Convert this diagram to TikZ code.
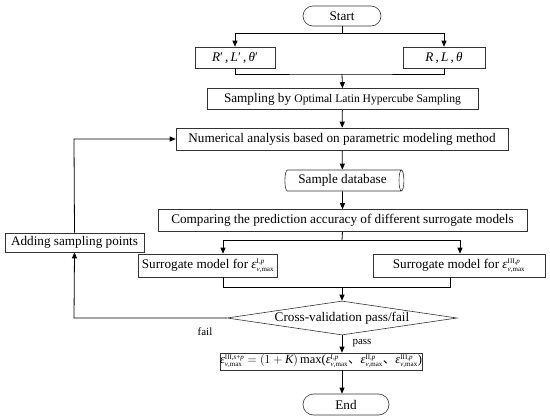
\documentclass[tikz,border=0pt]{standalone}
\usepackage{fontspec}
\usepackage{amsmath}
\setmainfont{Liberation Serif}
\newfontfamily\cjk{Noto Sans CJK SC}
\usetikzlibrary{arrows.meta,shapes.geometric,shapes.misc}
\newcommand\epsv[2]{$\text{\itshape ε}^{\mbox{\fontsize{7}{7}\selectfont #1,#2}}_{\mbox{\fontsize{7}{7}\selectfont\itshape v\upshape ,max}}$}
\begin{document}
\begin{tikzpicture}[x=1pt,y=-1pt,
  font=\fontsize{13.2}{15}\selectfont,
  box/.style={draw=black!80, line width=0.6pt, inner sep=1pt, fill=white},
  term/.style={draw=black!80, line width=0.6pt, rounded rectangle, inner sep=1pt},
  arr/.style={line width=0.8pt, -{Triangle[length=6pt,width=5pt]}},
  ln/.style={line width=0.8pt}]
\useasboundingbox (0,0) rectangle (550,418);
\node[term, minimum width=80, minimum height=20] (start) at (342,16) {Start};
\node[box, minimum width=80, minimum height=21] (rp) at (235,57.5) {\textit{R}′\,,\,\textit{L}′\,,\,\textit{θ}′};
\node[box, minimum width=82, minimum height=21] (r) at (444,57.5) {\textit{R}\,,\,\textit{L}\,,\,\textit{θ}};
\node[box, minimum width=271, minimum height=21] (samp) at (342.5,99) {Sampling by {\fontsize{11.6}{13}\selectfont Optimal Latin Hypercube Sampling}};
\node[box, minimum width=332, minimum height=22] (num) at (342,139) {Numerical analysis based on parametric modeling method};
\node[draw=black!80, line width=0.6pt, cylinder, shape aspect=0.35, minimum height=119, minimum width=21, inner sep=1pt] (db) at (342.5,180.5) {Sample database};
\node[box, minimum width=369, minimum height=22] (cmp) at (342.5,220.5) {Comparing the prediction accuracy of different surrogate models};
\node[box, minimum width=139, minimum height=19] (add) at (74.5,242.5) {Adding sampling points};
\node[box, minimum width=139, minimum height=23] (s1) at (208,265.5) {Surrogate model for \epsv{I}{\itshape p}};
\node[box, minimum width=172, minimum height=23] (s3) at (459,265.5) {Surrogate model for \epsv{III}{\itshape p}};
\node[draw=black!80, line width=0.6pt, diamond, aspect=6.8, inner sep=0pt, minimum width=230, minimum height=34] (cv) at (342,318) {Cross-validation pass/fail};
\node[box, minimum width=188, minimum height=17, inner sep=0pt, font=\fontsize{12.5}{13}\selectfont] (fm) at (321,361.5) {\epsv{III}{\itshape s\upshape +\itshape p}${}=(1+\mathit{K})$\,max(\epsv{I}{\itshape p}{\cjk 、}\epsv{II}{\itshape p}{\cjk 、}\epsv{III}{\itshape p})};
\node[term, minimum width=88, minimum height=21] (end) at (346,404.5) {End};
\node[font=\fontsize{11}{12}\selectfont] (fail) at (205,332) {fail};
\node[font=\fontsize{11}{12}\selectfont] (pass) at (362,343) {pass};
% connectors
\coordinate (sp1) at (342,33);
\coordinate (mg1) at (342,74);
\coordinate (sp2) at (342,240);
\coordinate (c1) at (223,240);
\coordinate (c3) at (460,240);
\coordinate (m1) at (223,287);
\coordinate (m3) at (450,287);
\coordinate (mg2) at (342,287);
\coordinate (lf) at (74,318);
\coordinate (lt) at (74,139);
\draw[ln] (start) -- (sp1);
\draw[arr] (sp1) -| (rp.north);
\draw[arr] (sp1) -| (r.north);
\draw[ln] (rp.south) |- (mg1) -| (r.south);
\draw[arr] (mg1) -- (samp.north);
\draw[arr] (samp) -- (num);
\draw[arr] (num) -- (db);
\draw[arr] (db) -- (cmp);
\draw[ln] (cmp.south) -- (sp2);
\draw[arr] (sp2) -- (c1) -- (c1 |- s1.north);
\draw[arr] (sp2) -- (c3) -- (c3 |- s3.north);
\draw[ln] (m1 |- s1.south) -- (m1) -- (m3) -- (m3 |- s3.south);
\draw[arr] (mg2) -- (cv.north);
\draw[arr] (cv.west) -- (lf) -- (add.south);
\draw[arr] (add.north) -- (lt) -- (num.west);
\draw[arr] (cv.south) -- (cv.south |- fm.north);
\draw[arr] (cv.south |- fm.south) -- (cv.south |- end.north);
\end{tikzpicture}
\end{document}
